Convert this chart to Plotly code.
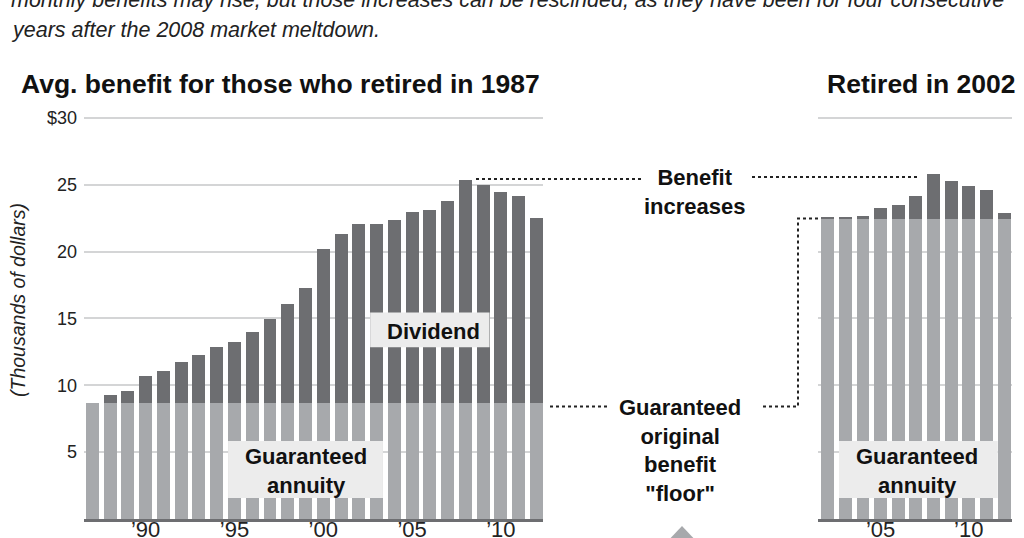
import plotly.graph_objects as go

# ---- data (thousands of dollars) ----
left_years = list(range(1987, 2013))
left_total = [8.7, 9.25, 9.6, 10.7, 11.1, 11.75, 12.3, 12.9, 13.25, 14.0,
              14.95, 16.1, 17.25, 20.2, 21.35, 22.05, 22.05, 22.35, 22.95, 23.15,
              23.8, 25.37, 24.95, 24.5, 24.2, 22.55]
left_floor = 8.7

right_years = list(range(2002, 2013))
right_total = [22.5, 22.5, 22.7, 23.3, 23.5, 24.2, 25.8, 25.25, 24.9, 24.6, 22.9]
right_floor = 22.45

y_tickvals = [5, 10, 15, 20, 25, 30]
y_ticktext = ['5', '10', '15', '20', '25', '$30']
x_tickvals = [1990, 1995, 2000, 2005, 2010]
x_ticktext = ["’90", "’95", "’00", "’05", "’10"]

DARK = '#6d6e71'
LIGHT = '#a7a9ac'
GRID = '#d4d5d6'
BOX = '#ececec'
INK = '#111111'
W, H = 1024, 538
FONT = 'Liberation Sans'


def px(x):
    return x / W


def py(y):
    return 1 - y / H


fig = go.Figure()

# left panel
fig.add_trace(go.Bar(x=left_years, y=[left_floor] * len(left_years),
                     marker=dict(color=LIGHT, line=dict(width=0)),
                     xaxis='x', yaxis='y', showlegend=False))
fig.add_trace(go.Bar(x=left_years, y=[round(t - left_floor, 2) for t in left_total],
                     marker=dict(color=DARK, line=dict(width=0)),
                     xaxis='x', yaxis='y', showlegend=False))
# right panel
fig.add_trace(go.Bar(x=right_years, y=[right_floor] * len(right_years),
                     marker=dict(color=LIGHT, line=dict(width=0)),
                     xaxis='x2', yaxis='y2', showlegend=False))
fig.add_trace(go.Bar(x=right_years, y=[round(t - right_floor, 2) for t in right_total],
                     marker=dict(color=DARK, line=dict(width=0)),
                     xaxis='x2', yaxis='y2', showlegend=False))

# 0 sits at y=519px, 30 at 118px
ydom = [py(519), py(115.3)]
xcommon = dict(tickvals=x_tickvals, ticktext=x_ticktext, showgrid=False,
               zeroline=False, showline=True, linecolor=DARK, linewidth=3,
               ticks='', ticklabelstandoff=-11, automargin=False,
               tickfont=dict(family=FONT, size=22, color='#222'))
ycommon = dict(range=[0, 30.2], domain=ydom, showgrid=True, gridcolor=GRID,
               gridwidth=1.5, zeroline=False, ticks='', automargin=False)

fig.update_layout(
    width=W, height=H,
    margin=dict(l=0, r=0, t=0, b=0),
    paper_bgcolor='white', plot_bgcolor='white',
    barmode='stack', bargap=0.27,
    hovermode=False,
    xaxis=dict(domain=[px(84), px(543)], range=[1986.53, 2012.37], **xcommon),
    xaxis2=dict(domain=[px(818), px(1012)], range=[2001.45, 2012.45],
                anchor='y2', **xcommon),
    yaxis=dict(tickvals=y_tickvals, ticktext=y_ticktext, ticklabelstandoff=6,
               tickfont=dict(family=FONT, size=18, color='#222'),
               **ycommon),
    yaxis2=dict(anchor='x2', tickvals=[5, 10, 15, 20, 30], showticklabels=False,
                **ycommon),
)

shapes = []
# label boxes behind in-chart text
shapes.append(dict(type='rect', xref='x', yref='y', x0=2002.64, x1=2009.36,
                   y0=12.85, y1=15.45, fillcolor=BOX, line=dict(width=0), layer='above'))
shapes.append(dict(type='rect', xref='x', yref='y', x0=1994.64, x1=2003.36,
                   y0=1.57, y1=5.84, fillcolor=BOX, line=dict(width=0), layer='above'))
shapes.append(dict(type='rect', xref='x2', yref='y2', x0=2002.64, x1=2011.64,
                   y0=1.57, y1=5.84, fillcolor=BOX, line=dict(width=0), layer='above'))

dot = dict(color='#222', width=2, dash='dot')
for x0, x1, y in [(476, 643, 179), (752, 920, 177), (550, 607, 406.5)]:
    shapes.append(dict(type='line', xref='paper', yref='paper',
                       x0=px(x0), x1=px(x1), y0=py(y), y1=py(y), line=dot))
shapes.append(dict(type='path', xref='paper', yref='paper', line=dot,
                   path='M {} {} L {} {} L {} {} L {} {}'.format(
                       px(763), py(406.5), px(798), py(406.5),
                       px(798), py(218.5), px(820), py(218.5))))
# pointer triangle at the bottom
shapes.append(dict(type='path', xref='paper', yref='paper', fillcolor=LIGHT,
                   line=dict(width=0),
                   path='M {} {} L {} {} L {} {} Z'.format(
                       px(682), py(526), px(700), py(545), px(664), py(545))))
fig.update_layout(shapes=shapes)


def note(text, x, y, size=22, xanchor='center', bold=True, italic=False,
         color=INK, angle=0):
    t = text
    if bold:
        t = '<b>' + t + '</b>'
    if italic:
        t = '<i>' + t + '</i>'
    fig.add_annotation(text=t, x=px(x), y=py(y), xref='paper', yref='paper',
                       showarrow=False, xanchor=xanchor, yanchor='middle',
                       textangle=angle, align='center',
                       font=dict(family=FONT, size=size, color=color))


# intro text (cut off at the top)
note('monthly benefits may rise, but those increases can be rescinded, as they have been for four consecutive',
     9, 0, size=21.5, xanchor='left', bold=False, italic=True, color='#222')
note('years after the 2008 market meltdown.', 9, 30, size=21.5, xanchor='left',
     bold=False, italic=True, color='#222')

# panel titles
note('Avg. benefit for those who retired in 1987', 19, 84, size=26.5, xanchor='left')
note('Retired in 2002', 1018, 84, size=26.5, xanchor='right')

# axis title
note('(Thousands of dollars)', 18, 300, size=19.5, bold=False, italic=True,
     color='#222', angle=-90)

# in-chart labels
note('Dividend', 433, 331, size=22)
note('Guaranteed<br>annuity', 306, 471, size=22)
note('Guaranteed<br>annuity', 917, 471, size=22)
note('Benefit<br>increases', 695, 192, size=22)
note('Guaranteed<br>original<br>benefit<br>"floor"', 680, 450, size=22)

fig.write_html('out.html', config={'displayModeBar': False},
               post_script="document.body.style.margin='0';")
